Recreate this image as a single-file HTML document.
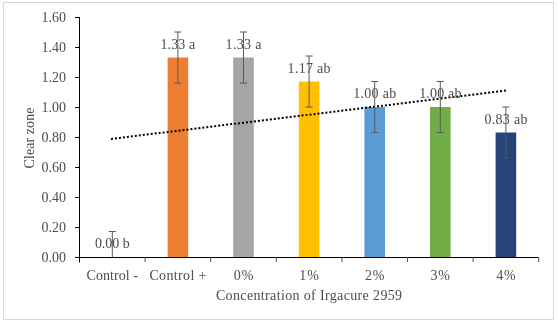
<!DOCTYPE html><html><head><meta charset="utf-8"><style>html,body{margin:0;padding:0;background:#fff;}svg{display:block;will-change:transform;}text{font-family:"Liberation Serif",serif;}</style></head><body>
<svg width="558" height="320" viewBox="0 0 558 320">
<rect x="0" y="0" width="558" height="320" fill="#fff"/>
<rect x="3.5" y="2.5" width="550" height="317" fill="none" stroke="#d9d9d9" stroke-width="1"/>
<rect x="167.60" y="57.50" width="20.60" height="199.50" fill="#ED7D31"/>
<rect x="233.20" y="57.50" width="20.60" height="199.50" fill="#A5A5A5"/>
<rect x="298.80" y="81.50" width="20.60" height="175.50" fill="#FFC000"/>
<rect x="364.40" y="107.00" width="20.60" height="150.00" fill="#5B9BD5"/>
<rect x="430.00" y="107.00" width="20.60" height="150.00" fill="#70AD47"/>
<rect x="495.60" y="132.50" width="20.60" height="124.50" fill="#264478"/>
<path d="M79.5 17 V262.5 M75 17.5 H80 M75 47.5 H80 M75 77.5 H80 M75 107.5 H80 M75 137.5 H80 M75 167.5 H80 M75 197.5 H80 M75 227.5 H80" stroke="#000" stroke-width="1" fill="none"/>
<path d="M75 257.5 H539" stroke="#000" stroke-width="1" fill="none"/>
<path d="M145.10 257 V262 M210.70 257 V262 M276.30 257 V262 M341.90 257 V262 M407.50 257 V262 M473.10 257 V262 M538.70 257 V262 " stroke="#555" stroke-width="1" fill="none"/>
<line x1="111.00" y1="138.95" x2="505.90" y2="90.58" stroke="#000" stroke-width="2" stroke-dasharray="2 2"/>
<path d="M112.30 231.50 V257.00 M108.80 231.50 H115.80 M177.90 32.00 V83.00 M174.40 32.00 H181.40 M174.40 83.00 H181.40 M243.50 32.00 V83.00 M240.00 32.00 H247.00 M240.00 83.00 H247.00 M309.10 56.00 V107.00 M305.60 56.00 H312.60 M305.60 107.00 H312.60 M374.70 81.50 V132.50 M371.20 81.50 H378.20 M371.20 132.50 H378.20 M440.30 81.50 V132.50 M436.80 81.50 H443.80 M436.80 132.50 H443.80 M505.90 107.00 V158.00 M502.40 107.00 H509.40 M502.40 158.00 H509.40" stroke="#595959" stroke-width="1" fill="none"/>
<text id="L0" x="112.30" y="248.00" font-size="14" fill="#4d4d4d" text-anchor="middle" textLength="34.80" lengthAdjust="spacing">0.00 b</text>
<text id="L1" x="177.90" y="48.50" font-size="14" fill="#4d4d4d" text-anchor="middle" textLength="34.82" lengthAdjust="spacing">1.33 a</text>
<text id="L2" x="243.50" y="48.50" font-size="14" fill="#4d4d4d" text-anchor="middle" textLength="35.82" lengthAdjust="spacing">1.33 a</text>
<text id="L3" x="309.10" y="72.50" font-size="14" fill="#4d4d4d" text-anchor="middle" textLength="43.02" lengthAdjust="spacing">1.17 ab</text>
<text id="L4" x="374.70" y="98.00" font-size="14" fill="#4d4d4d" text-anchor="middle" textLength="43.02" lengthAdjust="spacing">1.00 ab</text>
<text id="L5" x="440.30" y="98.00" font-size="14" fill="#4d4d4d" text-anchor="middle" textLength="42.22" lengthAdjust="spacing">1.00 ab</text>
<text id="L6" x="505.90" y="123.50" font-size="14" fill="#4d4d4d" text-anchor="middle" textLength="43.02" lengthAdjust="spacing">0.83 ab</text>
<text id="Y0" x="66" y="261.80" font-size="14" fill="#4d4d4d" text-anchor="end">0.00</text>
<text id="Y1" x="66" y="231.80" font-size="14" fill="#4d4d4d" text-anchor="end">0.20</text>
<text id="Y2" x="66" y="201.80" font-size="14" fill="#4d4d4d" text-anchor="end">0.40</text>
<text id="Y3" x="66" y="171.80" font-size="14" fill="#4d4d4d" text-anchor="end">0.60</text>
<text id="Y4" x="66" y="141.80" font-size="14" fill="#4d4d4d" text-anchor="end">0.80</text>
<text id="Y5" x="66" y="111.80" font-size="14" fill="#4d4d4d" text-anchor="end">1.00</text>
<text id="Y6" x="66" y="81.80" font-size="14" fill="#4d4d4d" text-anchor="end">1.20</text>
<text id="Y7" x="66" y="51.80" font-size="14" fill="#4d4d4d" text-anchor="end">1.40</text>
<text id="Y8" x="66" y="21.80" font-size="14" fill="#4d4d4d" text-anchor="end">1.60</text>
<text id="C0" x="112.30" y="279.5" font-size="14" fill="#4d4d4d" text-anchor="middle" textLength="51.55" lengthAdjust="spacing">Control -</text>
<text id="C1" x="177.90" y="279.5" font-size="14" fill="#4d4d4d" text-anchor="middle" textLength="56.99" lengthAdjust="spacing">Control +</text>
<text id="C2" x="243.50" y="279.5" font-size="14" fill="#4d4d4d" text-anchor="middle" textLength="19.60" lengthAdjust="spacing">0%</text>
<text id="C3" x="309.10" y="279.5" font-size="14" fill="#4d4d4d" text-anchor="middle" textLength="19.60" lengthAdjust="spacing">1%</text>
<text id="C4" x="374.70" y="279.5" font-size="14" fill="#4d4d4d" text-anchor="middle" textLength="19.47" lengthAdjust="spacing">2%</text>
<text id="C5" x="440.30" y="279.5" font-size="14" fill="#4d4d4d" text-anchor="middle" textLength="19.47" lengthAdjust="spacing">3%</text>
<text id="C6" x="505.90" y="279.5" font-size="14" fill="#4d4d4d" text-anchor="middle" textLength="19.50" lengthAdjust="spacing">4%</text>
<text id="T" x="309" y="299.8" font-size="14" fill="#4d4d4d" text-anchor="middle" textLength="186.16" lengthAdjust="spacing">Concentration of Irgacure 2959</text>
<text id="V" transform="translate(34 138) rotate(-90)" x="0" y="0" font-size="14" fill="#4d4d4d" text-anchor="middle" textLength="61.00" lengthAdjust="spacing">Clear zone</text>
</svg></body></html>
